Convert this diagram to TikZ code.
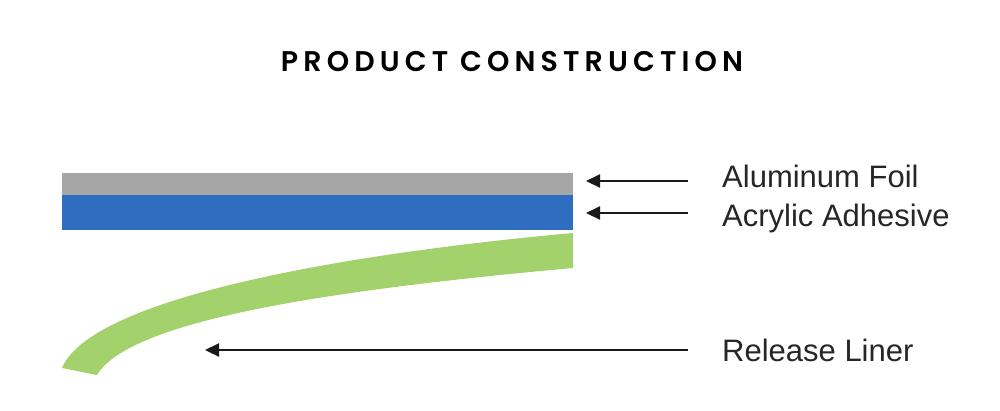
\documentclass[tikz,border=0pt]{standalone}
\usepackage{fontspec}
\usepackage{graphicx}
\setmainfont{Liberation Sans}
\newfontfamily\titlefont[LetterSpace=18]{Poppins SemiBold}
\usetikzlibrary{arrows.meta}
\definecolor{foil}{HTML}{A6A6A6}
\definecolor{adh}{HTML}{2E6DBF}
\definecolor{liner}{HTML}{A3D16B}
\tikzset{ptr/.style={draw=black!90,line width=2.2pt,-{Triangle[length=14pt,width=13pt]}},
lab/.style={anchor=west,inner sep=0pt,font=\fontsize{31}{31}\selectfont,text=black!85}}
\begin{document}
\begin{tikzpicture}[x=1pt,y=-1pt]
\useasboundingbox (0,0) rectangle (1000,410);
\node (title) at (512,62) {\resizebox{462pt}{!}{\titlefont PRODUCT CONSTRUCTION}};
\fill[foil] (62,173) rectangle (573,195);
\fill[adh] (62,195) rectangle (573,230);
\fill[liner] (573,233) .. controls (330,255) and (90,300) .. (62,368) -- (97,375) .. controls (130,320) and (330,290) .. (573,268) -- cycle;
\node[lab] (foilL) at (722,176) {Aluminum Foil};
\node[lab] (adhL) at (722,218) {Acrylic Adhesive};
\node[lab] (linL) at (722,350) {Release Liner};
\coordinate (fa) at (586,181); \coordinate (aa) at (586,213); \coordinate (la) at (205,350);
\draw[ptr] (688,181) -- (fa);
\draw[ptr] (688,213) -- (aa);
\draw[ptr] (688,350) -- (la);
\end{tikzpicture}
\end{document}
